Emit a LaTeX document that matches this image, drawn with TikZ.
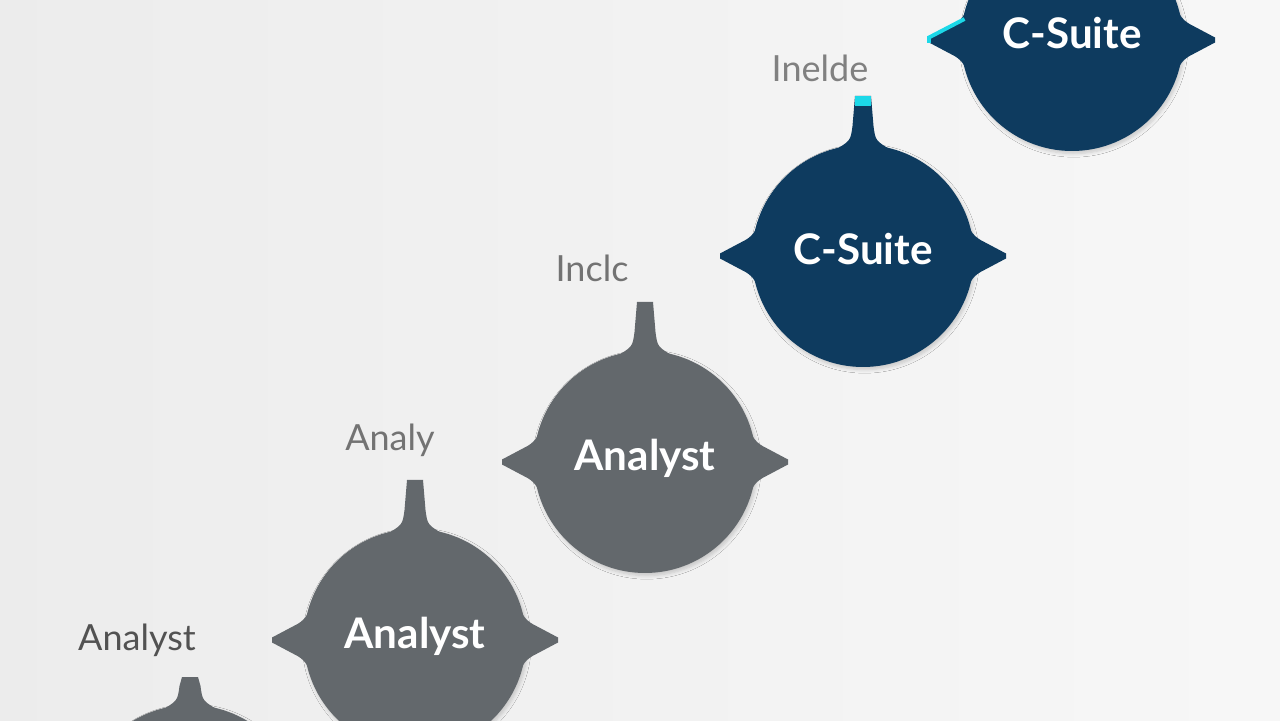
\documentclass[tikz,border=0pt]{standalone}
\usepackage{fontspec}
\setmainfont{Lato}
\usetikzlibrary{shadows.blur}

\definecolor{slate}{HTML}{63686C}
\definecolor{navy}{HTML}{0E3B5F}
\definecolor{tipcyan}{HTML}{1CD8E8}
\definecolor{paper}{HTML}{F1F1F1}

\tikzset{
  bubble/.style={circle, minimum size=4.44cm, inner sep=0pt, text=white,
    text height=17pt, text depth=7pt,
    font=\fontsize{24}{28}\selectfont\bfseries,
    blur shadow={shadow blur steps=6, shadow xshift=1pt, shadow yshift=-1.5pt, shadow opacity=18}},
  tag/.style={font=\fontsize{20.5}{24}\selectfont},
  pics/spikes/.style={code={
    \fill (-0.16,#1) -- (0.16,#1) -- (0.21,2.6) .. controls (0.25,2.3) .. (0.6,2.1)
      -- (-0.6,2.1) .. controls (-0.25,2.3) .. (-0.21,2.6) -- cycle;
    \fill (-2.86,0.05) -- (-2.35,0.32) .. controls (-2.18,0.42) and (-2.12,0.55) .. (-2.08,0.72)
      -- (-1.9,0) -- (-2.08,-0.72) .. controls (-2.12,-0.55) and (-2.18,-0.42) .. (-2.35,-0.32)
      -- (-2.86,-0.05) -- cycle;
    \fill (2.86,0.05) -- (2.35,0.32) .. controls (2.18,0.42) and (2.12,0.55) .. (2.08,0.72)
      -- (1.9,0) -- (2.08,-0.72) .. controls (2.12,-0.55) and (2.18,-0.42) .. (2.35,-0.32)
      -- (2.86,-0.05) -- cycle;
  }}
}

\begin{document}
\begin{tikzpicture}
\useasboundingbox (0,0) rectangle (25.6,14.4);
\shade[left color=paper!98!black, right color=paper!55!white] (0,0) rectangle (25.6,14.4);

% circles, bottom left to top right
\node[bubble, fill=slate] (c1) at (3.8,-1.92) {};
\pic[fill=slate] at (c1) {spikes=2.78};
\node[bubble, fill=slate] (c2) at (8.3,1.6) {Analyst};
\pic[fill=slate] at (c2) {spikes=3.2};
\node[bubble, fill=slate] (c3) at (12.9,5.16) {Analyst};
\pic[fill=slate] at (c3) {spikes=3.2};
\node[bubble, fill=navy] (c4) at (17.26,9.28) {C-Suite};
\pic[fill=navy] at (c4) {spikes=3.2};
\node[bubble, fill=navy] (c5) at (21.44,13.6) {C-Suite};
\pic[fill=navy] at (c5) {spikes=3.2};

% cyan tips
\begin{scope}[shift={(c4)}]
\fill[tipcyan] (-0.16,3.2) rectangle (0.16,3.0);
\end{scope}
\begin{scope}[shift={(c5)}]
\draw[tipcyan, line width=2.2pt] (-2.86,-0.06) -- (-2.86,0.05) -- (-2.15,0.42);
\end{scope}

% labels
\node[tag, text=black!68] (lab1) at (2.74,1.6) {Analyst};
\node[tag, text=black!55] (lab2) at (7.8,5.6) {Analy};
\node[tag, text=black!55] (lab3) at (11.84,9.04) {Inclc};
\node[tag, text=black!50] (lab4) at (16.4,13.04) {Inelde};
\end{tikzpicture}
\end{document}
